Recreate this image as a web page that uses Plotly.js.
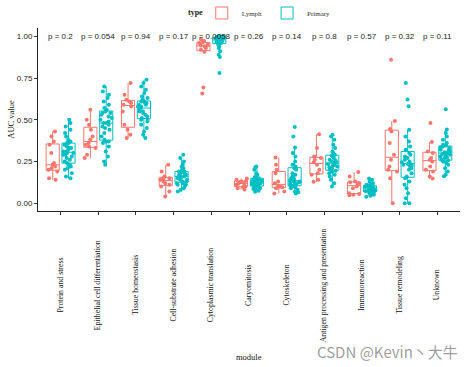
<!DOCTYPE html>
<html>
<head>
<meta charset="utf-8">
<script src="https://cdn.plot.ly/plotly-3.0.1.min.js"></script>
<style>html,body{margin:0;padding:0;background:#fff;}#chart{width:474px;height:367px;}</style>
</head>
<body>
<div id="chart"></div>
<script>
const modules = ["Protein and stress","Epithelial cell differentiation","Tissue homeostasis","Cell-substrate adhesion","Cytoplasmic translation","Caryomitosis","Cytoskeleton","Antigen processing and presentation","Immunoreaction","Tissue remodeling","Unknown"];
const pLabels = ["p = 0.2","p = 0.054","p = 0.94","p = 0.17","p = 0.0058","p = 0.26","p = 0.14","p = 0.8","p = 0.57","p = 0.32","p = 0.11"];
const yTicks = [0, 0.25, 0.5, 0.75, 1.0];

const lymphAUC = [
  [0.14,0.15,0.19,0.20,0.21,0.22,0.23,0.24,0.30,0.35,0.37,0.40,0.43],
  [0.27,0.29,0.33,0.34,0.35,0.36,0.38,0.40,0.44,0.47,0.50,0.56],
  [0.39,0.41,0.44,0.47,0.55,0.58,0.59,0.60,0.61,0.62,0.65,0.72],
  [0.04,0.07,0.10,0.11,0.12,0.13,0.14,0.15,0.15,0.16,0.19,0.23],
  [0.657,0.693,0.908,0.92,0.93,0.94,0.945,0.95,0.96,0.965,0.972,0.982],
  [0.082,0.09,0.097,0.10,0.11,0.115,0.12,0.125,0.13,0.135,0.14,0.148],
  [0.058,0.07,0.09,0.095,0.10,0.105,0.12,0.13,0.18,0.20,0.23,0.274],
  [0.128,0.14,0.17,0.18,0.20,0.23,0.245,0.26,0.27,0.28,0.33,0.413],
  [0.048,0.05,0.055,0.06,0.09,0.10,0.11,0.12,0.125,0.13,0.16,0.187],
  [0.0,0.15,0.19,0.20,0.22,0.26,0.29,0.36,0.43,0.445,0.493,0.86],
  [0.148,0.16,0.19,0.20,0.22,0.25,0.26,0.27,0.30,0.31,0.367,0.48]
];
const primaryAUC = [
  [0.15,0.16,0.18,0.20,0.21,0.22,0.23,0.23,0.24,0.25,0.26,0.27,0.28,0.29,0.29,0.30,0.30,0.31,0.31,0.32,0.33,0.33,0.34,0.35,0.36,0.36,0.37,0.38,0.40,0.42,0.44,0.46,0.48,0.50],
  [0.23,0.25,0.28,0.31,0.34,0.36,0.37,0.37,0.38,0.40,0.42,0.44,0.45,0.46,0.47,0.48,0.48,0.49,0.50,0.51,0.52,0.53,0.54,0.54,0.55,0.56,0.57,0.59,0.61,0.63,0.65,0.67,0.70],
  [0.39,0.41,0.43,0.45,0.47,0.49,0.50,0.50,0.51,0.52,0.53,0.54,0.55,0.55,0.56,0.57,0.57,0.58,0.58,0.59,0.59,0.60,0.60,0.61,0.61,0.62,0.63,0.64,0.66,0.68,0.70,0.72,0.74],
  [0.07,0.08,0.09,0.10,0.11,0.11,0.12,0.12,0.13,0.13,0.14,0.14,0.15,0.15,0.15,0.16,0.16,0.16,0.17,0.17,0.18,0.18,0.19,0.19,0.19,0.20,0.21,0.22,0.23,0.25,0.27,0.29],
  [0.78,0.876,0.89,0.91,0.93,0.94,0.95,0.955,0.958,0.96,0.965,0.968,0.97,0.972,0.975,0.977,0.98,0.98,0.982,0.984,0.986,0.988,0.99,0.992,0.994,0.995,0.996,0.997,0.998,1.0,1.0,1.0],
  [0.068,0.075,0.08,0.085,0.09,0.095,0.098,0.10,0.105,0.11,0.11,0.115,0.118,0.12,0.12,0.122,0.125,0.128,0.13,0.132,0.135,0.14,0.145,0.148,0.15,0.155,0.16,0.17,0.18,0.20,0.215,0.22],
  [0.058,0.065,0.07,0.08,0.09,0.095,0.10,0.102,0.105,0.11,0.115,0.12,0.125,0.128,0.13,0.132,0.135,0.14,0.145,0.15,0.16,0.17,0.18,0.20,0.21,0.22,0.23,0.25,0.28,0.30,0.333,0.40,0.457],
  [0.10,0.12,0.14,0.16,0.17,0.18,0.19,0.195,0.20,0.21,0.215,0.22,0.225,0.23,0.235,0.24,0.24,0.245,0.25,0.255,0.26,0.27,0.28,0.285,0.29,0.30,0.31,0.33,0.35,0.38,0.40,0.41],
  [0.038,0.045,0.05,0.055,0.06,0.062,0.065,0.068,0.07,0.072,0.075,0.078,0.08,0.082,0.084,0.085,0.087,0.09,0.092,0.095,0.098,0.10,0.102,0.105,0.108,0.11,0.115,0.12,0.13,0.14,0.148],
  [0.0,0.0,0.03,0.06,0.09,0.11,0.13,0.15,0.16,0.18,0.20,0.21,0.22,0.225,0.23,0.235,0.24,0.245,0.25,0.26,0.27,0.28,0.29,0.30,0.32,0.34,0.37,0.40,0.44,0.581,0.621,0.72],
  [0.162,0.17,0.19,0.21,0.23,0.24,0.25,0.255,0.26,0.27,0.275,0.28,0.285,0.29,0.295,0.30,0.30,0.305,0.31,0.315,0.32,0.33,0.335,0.34,0.345,0.35,0.36,0.38,0.40,0.42,0.441,0.563]
];

function flatten(groups) {
  const xs = [], ys = [];
  groups.forEach((vals, i) => vals.forEach(v => { xs.push(modules[i]); ys.push(v); }));
  return {x: xs, y: ys};
}
const L = flatten(lymphAUC), P = flatten(primaryAUC);

function boxTrace(d, name, color) {
  return {
    type: 'box', name: name, x: d.x, y: d.y,
    boxpoints: 'all', jitter: 0.9, pointpos: 0,
    whiskerwidth: 0,
    fillcolor: 'rgba(255,255,255,0)',
    line: {color: color, width: 1},
    marker: {color: color, size: 4, opacity: 1},
    hoverinfo: 'y'
  };
}

const traces = [boxTrace(L, 'Lymph', '#F8766D'), boxTrace(P, 'Primary', '#00BFC4')];

const annotations = [];
modules.forEach((m, i) => {
  annotations.push({x: m, y: 1.0, xref: 'x', yref: 'y', text: pLabels[i], showarrow: false,
    font: {family: 'Liberation Sans, Arial, sans-serif', size: 8, color: '#222'}, xanchor: 'center', yanchor: 'middle'});
  annotations.push({x: m, y: -0.404, xref: 'x', yref: 'paper', text: m, showarrow: false, textangle: -90,
    font: {family: 'Liberation Serif, Times New Roman, serif', size: 7.8, color: '#111'}, xanchor: 'center', yanchor: 'middle'});
});
annotations.push({x: 0.5, y: -0.798, xref: 'paper', yref: 'paper', text: 'module', showarrow: false,
  font: {family: 'Liberation Serif, serif', size: 8.5, color: '#111'}, xanchor: 'center', yanchor: 'middle'});
annotations.push({x: 1.0, y: -0.77, xref: 'paper', yref: 'paper', text: 'CSDN @Kevin丶大牛', showarrow: false,
  font: {family: 'Noto Sans CJK SC, sans-serif', size: 15, color: 'rgba(140,140,140,0.85)'}, xanchor: 'right', yanchor: 'middle'});
// legend title
annotations.push({x: 0.395, y: 1.082, xref: 'paper', yref: 'paper', text: '<b>type</b>', showarrow: false,
  font: {family: 'Liberation Serif, serif', size: 8, color: '#222'}, xanchor: 'right', yanchor: 'middle'});

const layout = {
  width: 474, height: 367,
  margin: {l: 38, r: 14, t: 28, b: 156},
  paper_bgcolor: '#fff', plot_bgcolor: '#fff',
  boxmode: 'group', boxgap: 0.16, boxgroupgap: 0.17,
  showlegend: true,
  legend: {orientation: 'h', x: 0.388, xanchor: 'left', xref: 'paper',
    y: 1 - 13/367, yanchor: 'middle', yref: 'container',
    font: {family: 'Liberation Serif, serif', size: 7, color: '#333'}, itemwidth: 30, tracegroupgap: 0,
    bgcolor: 'rgba(0,0,0,0)'},
  xaxis: {type: 'category', range: [-0.6, 10.6], showticklabels: false, ticks: 'outside', ticklen: 3, tickcolor: '#333',
    showline: true, linecolor: '#222', linewidth: 1, showgrid: false, zeroline: false, fixedrange: true},
  yaxis: {range: [-0.047, 1.05], tickvals: yTicks, tickformat: '.2f', ticks: 'outside', ticklen: 3, tickcolor: '#333',
    showline: true, linecolor: '#222', linewidth: 1, showgrid: false, zeroline: false,
    tickfont: {family: 'Liberation Sans, Arial, sans-serif', size: 8, color: '#222'},
    title: {text: 'AUC value', font: {family: 'Liberation Serif, serif', size: 8.5, color: '#111'}, standoff: 0}},
  annotations: annotations
};

Plotly.newPlot('chart', traces, layout, {displayModeBar: false, staticPlot: true});
</script>
</body>
</html>
